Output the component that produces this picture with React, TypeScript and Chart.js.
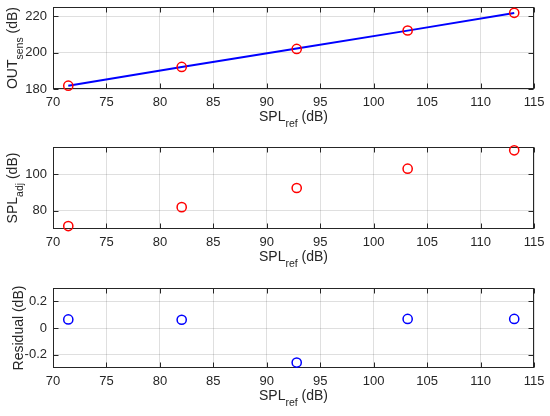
import React, { useEffect, useRef } from "react";
import { Chart, registerables } from "chart.js";

Chart.register(...registerables);

// ---------- data ----------
const splRef = [71.43, 82.04, 92.8, 103.18, 113.15];
const outSens = [181.8, 192.1, 202.0, 212.1, 221.8];
const fitLine = [181.74, 192.04, 202.26, 212.03, 221.73];
const splAdj = [71.6, 82.0, 92.5, 103.1, 113.2];
const residual = [0.064, 0.062, -0.259, 0.068, 0.068];

const xTicks = [70, 75, 80, 85, 90, 95, 100, 105, 110, 115];
const yTicksTop = [180, 200, 220];
const yTicksMid = [80, 100];
const yTicksBot = [-0.2, 0, 0.2];

// ---------- style ----------
const FONT = '"Liberation Sans", Arial, Helvetica, sans-serif';
const AX = "#262626";
const GRID = "rgba(38,38,38,0.15)";
const TICK_SIZE = 13;
const LABEL_SIZE = 14;
const SUB_SIZE = 10.5;
const SUB_DY = 6;

type LabelSpec = { main: string; sub: string; tail: string };

function drawLabel(ctx: CanvasRenderingContext2D, spec: LabelSpec, cx: number, cy: number, rotated: boolean) {
  const segs = [
    { text: spec.main, size: LABEL_SIZE, dy: 0 },
    { text: spec.sub, size: SUB_SIZE, dy: SUB_DY },
    { text: spec.tail, size: LABEL_SIZE, dy: 0 },
  ].filter((s) => s.text);
  ctx.save();
  ctx.translate(cx, cy);
  if (rotated) ctx.rotate(-Math.PI / 2);
  ctx.textAlign = "left";
  ctx.textBaseline = "alphabetic";
  ctx.fillStyle = AX;
  let total = 0;
  const widths = segs.map((s) => {
    ctx.font = `${s.size}px ${FONT}`;
    const w = ctx.measureText(s.text).width;
    total += w;
    return w;
  });
  let x = -total / 2;
  segs.forEach((s, i) => {
    ctx.font = `${s.size}px ${FONT}`;
    ctx.fillText(s.text, x, s.dy);
    x += widths[i];
  });
  ctx.restore();
}

const matlabAxes = {
  id: "matlabAxes",
  beforeDatasetsDraw(chart: any) {
    const opts = chart.options.plugins.matlabAxes;
    const { ctx, chartArea } = chart;
    const { left, right, top, bottom } = chartArea;
    const xs = chart.scales.x;
    const ys = chart.scales.y;
    ctx.save();
    ctx.strokeStyle = AX;
    ctx.lineWidth = 1;
    const L = Math.round(left) + 0.5;
    const R = Math.round(right) - 0.5;
    const T = Math.round(top) + 0.5;
    const B = Math.round(bottom) - 0.5;
    ctx.strokeRect(L, T, R - L, B - T);
    const tl = 5;
    ctx.beginPath();
    xs.ticks.forEach((t: any) => {
      const px = Math.round(xs.getPixelForValue(t.value)) + 0.5;
      ctx.moveTo(px, B);
      ctx.lineTo(px, B - tl);
      ctx.moveTo(px, T);
      ctx.lineTo(px, T + tl);
    });
    ys.ticks.forEach((t: any) => {
      const py = Math.round(ys.getPixelForValue(t.value)) + 0.5;
      ctx.moveTo(L, py);
      ctx.lineTo(L + tl, py);
      ctx.moveTo(R, py);
      ctx.lineTo(R - tl, py);
    });
    ctx.stroke();
    ctx.restore();
    drawLabel(ctx, opts.xTitle, (left + right) / 2, bottom + 32, false);
    drawLabel(ctx, opts.yTitle, opts.yTitleX, (top + bottom) / 2, true);
  },
};

type Panel = {
  height: number;
  padTop: number;
  xAxisH: number;
  yMin: number;
  yMax: number;
  yTicks: number[];
  yTitle: LabelSpec;
  yTitleX: number;
  datasets: any[];
};

const xTitle: LabelSpec = { main: "SPL", sub: "ref", tail: " (dB)" };

function toPoints(xs: number[], ys: number[]) {
  return xs.map((x, i) => ({ x, y: ys[i] }));
}

const circle = (color: string) => ({
  showLine: false,
  pointStyle: "circle",
  pointRadius: 4.6,
  pointBorderWidth: 1.5,
  pointBorderColor: color,
  pointBackgroundColor: "rgba(0,0,0,0)",
  borderColor: color,
  clip: false,
});

const panels: Panel[] = [
  {
    height: 138,
    padTop: 7,
    xAxisH: 49,
    yMin: 180,
    yMax: 225,
    yTicks: yTicksTop,
    yTitle: { main: "OUT", sub: "sens", tail: " (dB)" },
    yTitleX: 17,
    datasets: [
      { data: toPoints(splRef, outSens), ...circle("#ff0000") },
      {
        data: toPoints(splRef, fitLine),
        showLine: true,
        pointRadius: 0,
        borderColor: "#0000ff",
        borderWidth: 2,
        clip: false,
      },
    ],
  },
  {
    height: 138,
    padTop: 9,
    xAxisH: 47,
    yMin: 70,
    yMax: 115,
    yTicks: yTicksMid,
    yTitle: { main: "SPL", sub: "adj", tail: " (dB)" },
    yTitleX: 17,
    datasets: [{ data: toPoints(splRef, splAdj), ...circle("#ff0000") }],
  },
  {
    height: 140,
    padTop: 12,
    xAxisH: 48,
    yMin: -0.3,
    yMax: 0.3,
    yTicks: yTicksBot,
    yTitle: { main: "Residual (dB)", sub: "", tail: "" },
    yTitleX: 23,
    datasets: [{ data: toPoints(splRef, residual), ...circle("#0000ff") }],
  },
];

function zeroPad(s: any) {
  s.paddingTop = 0;
  s.paddingBottom = 0;
  s.paddingLeft = 0;
  s.paddingRight = 0;
}

function buildConfig(p: Panel): any {
  const tickFont = { family: FONT, size: TICK_SIZE };
  return {
    type: "scatter",
    data: { datasets: p.datasets },
    options: {
      animation: false,
      responsive: false,
      events: [],
      layout: { padding: { top: p.padTop, right: 16, bottom: 0, left: 0 } },
      plugins: {
        legend: { display: false },
        tooltip: { enabled: false },
        matlabAxes: { xTitle, yTitle: p.yTitle, yTitleX: p.yTitleX },
      },
      scales: {
        x: {
          type: "linear",
          min: 70,
          max: 115,
          afterBuildTicks: (s: any) => {
            s.ticks = xTicks.map((v) => ({ value: v }));
          },
          afterFit: (s: any) => {
            s.height = p.xAxisH;
            zeroPad(s);
          },
          ticks: {
            padding: 6,
            font: tickFont,
            color: AX,
            autoSkip: false,
            maxRotation: 0,
            callback: (v: any) => String(v),
          },
          grid: { color: GRID, drawTicks: false, lineWidth: 1 },
          border: { display: false },
        },
        y: {
          type: "linear",
          min: p.yMin,
          max: p.yMax,
          afterBuildTicks: (s: any) => {
            s.ticks = p.yTicks.map((v) => ({ value: v }));
          },
          afterFit: (s: any) => {
            s.width = 53;
            zeroPad(s);
          },
          ticks: {
            padding: 6,
            font: tickFont,
            color: AX,
            autoSkip: false,
            callback: (v: any) => String(v),
          },
          grid: { color: GRID, drawTicks: false, lineWidth: 1 },
          border: { display: false },
        },
      },
    },
    plugins: [matlabAxes],
  };
}

function PanelChart({ panel, top }: { panel: Panel; top: number }) {
  const ref = useRef<HTMLCanvasElement | null>(null);
  useEffect(() => {
    if (!ref.current) return;
    const chart = new Chart(ref.current, buildConfig(panel));
    return () => chart.destroy();
  }, [panel]);
  return (
    <canvas
      ref={ref}
      width={550}
      height={panel.height}
      style={{ position: "absolute", left: 0, top, width: 550, height: panel.height, display: "block" }}
    />
  );
}

export default function App() {
  let acc = 0;
  const tops = panels.map((p) => {
    const t = acc;
    acc += p.height;
    return t;
  });
  return (
    <div style={{ position: "absolute", left: 0, top: 0, width: 550, height: 416, background: "#ffffff", overflow: "hidden" }}>
      {panels.map((p, i) => (
        <PanelChart key={i} panel={p} top={tops[i]} />
      ))}
    </div>
  );
}
